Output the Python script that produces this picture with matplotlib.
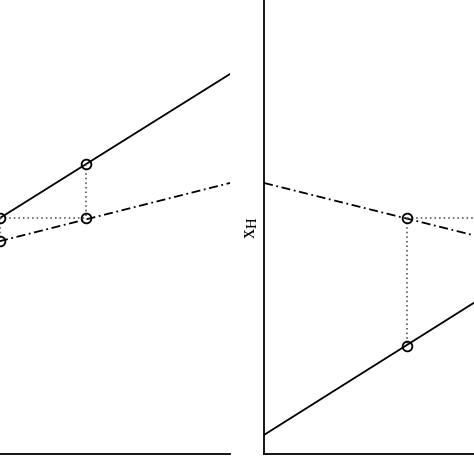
import matplotlib
matplotlib.use('Agg')
import matplotlib.pyplot as plt
import numpy as np

plt.rcParams['mathtext.fontset'] = 'stix'
plt.rcParams['font.family'] = 'Liberation Serif'

left_x = [0.0, 1.0]
left_solid = [0.473, 0.837]
left_dashdot = [0.450, 0.597]
left_pts_x = [0.129, 0.455]
left_pts_solid = [0.520, 0.639]
left_pts_dashdot = [0.469, 0.520]

# right panel
right_x = [0.0, 1.0]
right_solid = [0.042, 0.408]
right_dashdot = [0.597, 0.452]
right_pt_x = 0.542
right_pt_solid = 0.238
right_pt_dashdot = 0.520

W, H = 474, 474
fig = plt.figure(figsize=(W / 100, H / 100), dpi=100)

ax_h = 454 / H
ax_b = 20 / H
ax1 = fig.add_axes([-34 / W, ax_b, 264 / W, ax_h])
ax2 = fig.add_axes([264 / W, ax_b, 264 / W, ax_h])

lw = 1.3
dashdot = (0, (5, 2, 1, 2))
circ = dict(marker='o', markersize=7, markerfacecolor='none',
            markeredgecolor='black', markeredgewidth=1.3, linestyle='none')
dot = dict(color='#444444', linestyle=(0, (1, 2)), linewidth=1.1)

# left panel
ax1.plot(left_x, left_solid, color='black', linewidth=lw)
ax1.plot(left_x, left_dashdot, color='black', linewidth=lw, linestyle=dashdot)
ax1.plot([left_pts_x[0], left_pts_x[1]], [left_pts_solid[0], left_pts_solid[0]], **dot)
ax1.plot([left_pts_x[1], left_pts_x[1]], [left_pts_solid[1], left_pts_dashdot[1]], **dot)
ax1.plot([left_pts_x[0], left_pts_x[0]], [left_pts_solid[0], left_pts_dashdot[0]], **dot)
ax1.plot(left_pts_x, left_pts_solid, **circ)
ax1.plot(left_pts_x, left_pts_dashdot, **circ)

# right panel
ax2.plot(right_x, right_solid, color='black', linewidth=lw)
ax2.plot(right_x, right_dashdot, color='black', linewidth=lw, linestyle=dashdot)
ax2.plot([right_pt_x, right_pt_x], [right_pt_dashdot, right_pt_solid], **dot)
ax2.plot([right_pt_x, 1.0], [right_pt_dashdot, right_pt_dashdot], **dot)
ax2.plot([right_pt_x], [right_pt_solid], **circ)
ax2.plot([right_pt_x], [right_pt_dashdot], **circ)
ax2.set_ylabel(r'$\mathrm{x}_{\mathrm{H}}$', fontsize=15, labelpad=3)

for ax in (ax1, ax2):
    ax.set_xlim(0, 1)
    ax.set_ylim(0, 1)
    ax.set_xticks([])
    ax.set_yticks([])
    ax.spines['top'].set_visible(False)
    ax.spines['right'].set_visible(False)
    ax.spines['left'].set_linewidth(1.3)
    ax.spines['bottom'].set_linewidth(1.3)

fig.savefig('out.png', dpi=100)
